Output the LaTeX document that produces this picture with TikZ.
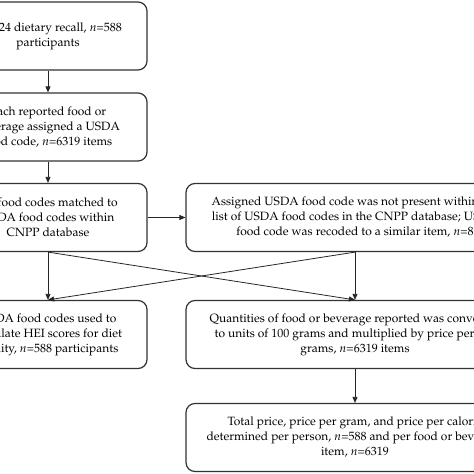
\documentclass[tikz,border=0pt]{standalone}
\usepackage[T1]{fontenc}
\usepackage{mathpazo}
\usepackage{tikz}
\usetikzlibrary{positioning,arrows.meta}

\begin{document}
\begin{tikzpicture}[
            x=1pt, y=-1pt,
            stage/.style={draw=black!80, line width=1.2pt, rounded corners=9pt, align=center,
                minimum height=68pt, inner sep=0pt, font=\fontsize{12}{15}\selectfont},
            narrow/.style={stage, minimum width=198pt},
            wide/.style={stage, minimum width=338pt},
            link/.style={-{Triangle[length=6pt,width=5pt]}, line width=0.8pt, draw=black!85}
        ]
            \useasboundingbox (0,0) rectangle (474,474);
            \clip (0,0) rectangle (474,474);

            % Left column
            \node[narrow] (recall) at (48,36) {ASA24 dietary recall, $n$=588\\participants};
            \node[narrow] (assign) at (48,127) {Each reported food or\\beverage assigned a USDA\\food code, $n$=6319 items};
            \node[narrow] (match) at (48,217.5) {All food codes matched to\\USDA food codes within\\CNPP database};
            \node[narrow] (hei) at (48,334.5) {USDA food codes used to\\calculate HEI scores for diet\\quality, $n$=588 participants};

            % Right column
            \node[wide] (recode) at (355,217.5) {Assigned USDA food code was not present within the\\list of USDA food codes in the CNPP database; USDA\\food code was recoded to a similar item, $n$=8};
            \node[wide] (convert) at (355,334.5) {Quantities of food or beverage reported was converted\\to units of 100 grams and multiplied by price per 100\\grams, $n$=6319 items};
            \node[wide] (total) at (355,437.5) {Total price, price per gram, and price per calorie\\determined per person, $n$=588 and per food or beverage\\item, $n$=6319};

            % Connections
            \draw[link] (recall) -- (assign);
            \draw[link] (assign) -- (match);
            \draw[link] (match) -- (recode);
            \draw[link] (match) -- (hei);
            \draw[link] (recode) -- (convert);
            \draw[link] (match.south) -- (convert.north);
            \draw[link] (recode.south) -- (hei.north);
            \draw[link] (convert) -- (total);
        \end{tikzpicture}
\end{document}
